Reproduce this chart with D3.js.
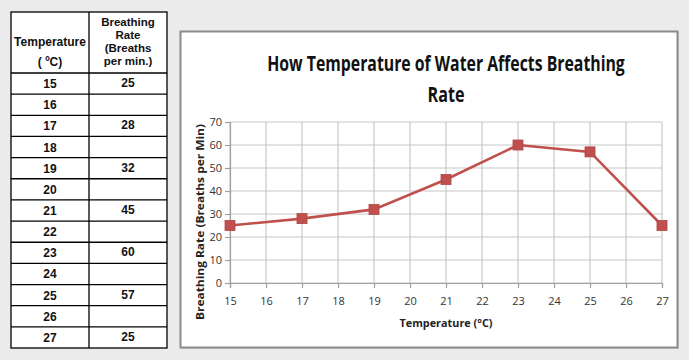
<!DOCTYPE html>
<html><head><meta charset="utf-8">
<script src="https://cdn.jsdelivr.net/npm/d3@7"></script>
<style>
html,body{margin:0;padding:0;background:#ebebeb;}
svg{display:block;}
</style></head>
<body>
<svg id="c" width="689" height="360"></svg>
<script>
// Data
const tableTemps = [15,16,17,18,19,20,21,22,23,24,25,26,27];
const tableRates = [25,null,28,null,32,null,45,null,60,null,57,null,25];
const temps = [15,17,19,21,23,25,27];
const rates = [25,28,32,45,60,57,25];
const xTicks = [15,16,17,18,19,20,21,22,23,24,25,26,27];
const yTicks = [0,10,20,30,40,50,60,70];
const titleLines = ["How Temperature of Water Affects Breathing","Rate"];
const xLabel = "Temperature (\u00B0C)";
const yLabel = "Breathing Rate (Breaths per Min)";

const svg = d3.select("#c");
svg.append("rect").attr("width",689).attr("height",360).attr("fill","#ebebeb");

// ---- Table ----
const tb = {x0:11, x1:167, xm:89, top:12, head:73, bottom:348};
const tg = svg.append("g");
tg.append("rect").attr("x",tb.x0).attr("y",tb.top).attr("width",tb.x1-tb.x0).attr("height",tb.bottom-tb.top)
  .attr("fill","#fff").attr("stroke","#000").attr("stroke-width",1.3);
const rowY = d3.scaleLinear().domain([0,tableTemps.length]).range([tb.head,tb.bottom]);
tg.append("line").attr("x1",tb.xm).attr("x2",tb.xm).attr("y1",tb.top).attr("y2",tb.bottom).attr("stroke","#000").attr("stroke-width",1.3);
tg.selectAll("line.r").data(d3.range(0,tableTemps.length)).join("line")
  .attr("x1",tb.x0).attr("x2",tb.x1).attr("y1",i=>rowY(i)).attr("y2",i=>rowY(i))
  .attr("stroke","#000").attr("stroke-width",1.3);
const tf = "'Liberation Sans', Arial, sans-serif";
const hdr1 = [["Temperature",46],["( \u00BAC)",66]];
hdr1.forEach(([t,y])=>tg.append("text").attr("x",(tb.x0+tb.xm)/2).attr("y",y).attr("text-anchor","middle")
  .attr("font-family",tf).attr("font-weight","bold").attr("font-size",12).attr("fill","#111").text(t));
const hdr2 = [["Breathing",26],["Rate",39],["(Breaths",52],["per min.)",65]];
hdr2.forEach(([t,y])=>tg.append("text").attr("x",(tb.xm+tb.x1)/2).attr("y",y).attr("text-anchor","middle")
  .attr("font-family",tf).attr("font-weight","bold").attr("font-size",11.5).attr("fill","#111").text(t));
tg.selectAll("text.t").data(tableTemps).join("text")
  .attr("x",(tb.x0+tb.xm)/2).attr("y",(d,i)=>(rowY(i)+rowY(i+1))/2+4.5).attr("text-anchor","middle")
  .attr("font-family",tf).attr("font-weight","bold").attr("font-size",12).attr("fill","#111").text(d=>d);
tg.selectAll("text.v").data(tableRates).join("text")
  .attr("x",(tb.xm+tb.x1)/2).attr("y",(d,i)=>(rowY(i)+rowY(i+1))/2+3.5).attr("text-anchor","middle")
  .attr("font-family",tf).attr("font-weight","bold").attr("font-size",12).attr("fill","#111").text(d=>d==null?"":d);

// ---- Chart panel ----
svg.append("rect").attr("x",181.5).attr("y",32.5).attr("width",497).attr("height",316).attr("fill","none").attr("stroke","#d0d0d0").attr("stroke-width",1);
svg.append("rect").attr("x",180.5).attr("y",31.5).attr("width",497).attr("height",316).attr("fill","#fff").attr("stroke","#8a8a8a").attr("stroke-width",2);

// title, condensed by horizontal scaling to match the reference width
function fitText(txt, cx, by, size, width){
  const t = svg.append("text").attr("text-anchor","middle")
    .attr("font-family","'Liberation Sans Narrow', 'Open Sans', sans-serif").attr("font-weight","bold")
    .attr("font-size",size).attr("fill","#111").text(txt);
  const w = t.node().getComputedTextLength();
  const sx = width / w;
  t.attr("transform",`translate(${cx},${by}) scale(${sx},1)`);
  return t;
}
fitText(titleLines[0], 446, 71, 21, 358);
fitText(titleLines[1], 446, 102, 21, 37);

const x = d3.scaleLinear().domain([15,27]).range([230,662]);
const y = d3.scaleLinear().domain([0,70]).range([283,122]);

// grid
const g = svg.append("g");
g.selectAll("line.vx").data(xTicks).join("line")
  .attr("x1",d=>x(d)).attr("x2",d=>x(d)).attr("y1",y(70)).attr("y2",y(0)).attr("stroke","#c8c8c8").attr("stroke-width",1.2);
g.selectAll("line.hy").data(yTicks).join("line")
  .attr("x1",x(15)).attr("x2",x(27)).attr("y1",d=>y(d)).attr("y2",d=>y(d)).attr("stroke","#c8c8c8").attr("stroke-width",1.2);

// axes
const xa = svg.append("g").attr("transform",`translate(0,${y(0)})`)
  .call(d3.axisBottom(x).tickValues(xTicks).tickSize(5).tickPadding(9).tickFormat(d3.format("d")));
const ya = svg.append("g").attr("transform",`translate(${x(15)},0)`)
  .call(d3.axisLeft(y).tickValues(yTicks).tickSize(5).tickPadding(3));
[xa,ya].forEach(a=>{
  a.select(".domain").attr("stroke","#a0a0a0").attr("stroke-width",1.2);
  a.selectAll(".tick line").attr("stroke","#a0a0a0").attr("stroke-width",1.2);
  a.selectAll("text").attr("font-family","'Open Sans', sans-serif").attr("font-size",11).attr("fill","#333");
});

// labels
svg.append("text").attr("x",446).attr("y",327).attr("text-anchor","middle")
  .attr("font-family","'Open Sans', sans-serif").attr("font-weight","bold").attr("font-size",11).attr("fill","#222")
  .attr("textLength",93).attr("lengthAdjust","spacingAndGlyphs").text(xLabel);
svg.append("text").attr("transform","translate(204,222) rotate(-90)").attr("text-anchor","middle")
  .attr("font-family","'Open Sans', sans-serif").attr("font-weight","bold").attr("font-size",11).attr("fill","#222")
  .attr("textLength",196).attr("lengthAdjust","spacingAndGlyphs").text(yLabel);

// line
const line = d3.line().x((d,i)=>x(temps[i])).y(d=>y(d));
svg.append("path").datum(rates).attr("d",line).attr("fill","none").attr("stroke","#c0504d").attr("stroke-width",2.6);
svg.selectAll("rect.m").data(rates).join("rect")
  .attr("x",(d,i)=>x(temps[i])-5).attr("y",d=>y(d)-5).attr("width",10).attr("height",10)
  .attr("fill","#c0504d").attr("stroke","#b04541").attr("stroke-width",0.8);
</script>
</body></html>
